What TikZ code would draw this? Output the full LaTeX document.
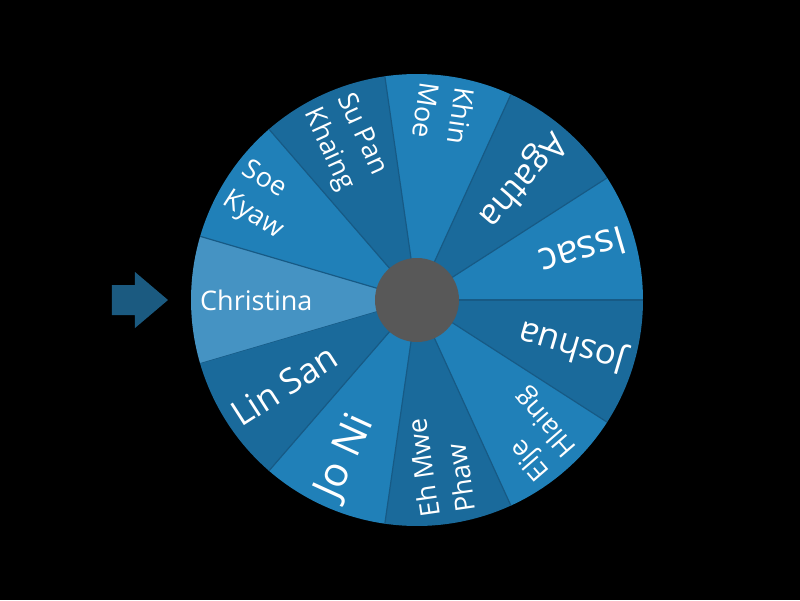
\documentclass[tikz,border=0pt]{standalone}
\usepackage{fontspec}
\setmainfont{Open Sans}
\usepackage{tikz}
\definecolor{segLight}{HTML}{2080B8}
\definecolor{segDark}{HTML}{1A6A9B}
\definecolor{segHi}{HTML}{4593C3}
\definecolor{segLine}{HTML}{175A85}
\definecolor{hubGray}{HTML}{585858}
\definecolor{pointerBlue}{HTML}{1B5A80}

\begin{document}
\begin{tikzpicture}[
    x=1pt, y=1pt,
    divider/.style={draw=segLine, line width=1.2pt},
    wheellabel/.style={text=white, inner sep=0pt, anchor=west, align=left}
]
% Background
\fill[black] (-417,-300) rectangle (383,300);
\useasboundingbox (-417,-300) rectangle (383,300);

% Wheel segments
\foreach \i/\txt/\sz/\col in {
    0/Christina/27/segHi,
    1/{Soe\\Kyaw}/27/segLight,
    2/{Su Pan\\Khaing}/27/segDark,
    3/{Khin\\Moe}/27/segLight,
    4/Agatha/35/segDark,
    5/Issac/39/segLight,
    6/Joshua/35/segDark,
    7/{Elje\\Hlaing}/27/segLight,
    8/{Eh Mwe\\Phaw}/27/segDark,
    9/Jo Ni/41/segLight,
    10/Lin San/35/segDark} {
  \pgfmathsetmacro{\a}{180-\i*360/11}
  \fill[\col] (0,0) -- (\a-180/11:226) arc[start angle=\a-180/11, end angle=\a+180/11, radius=226] -- cycle;
  \draw[divider] (0,0) -- (\a+180/11:226);
  \node[wheellabel, rotate=\a+180, font=\fontsize{\sz}{36}\selectfont] (seg\i) at (\a:217) {\txt};
}

% Hub
\fill[hubGray] (0,0) circle (42);

% Pointer
\fill[pointerBlue] (-305,-15) -- (-282,-15) -- (-282,-28) -- (-249,0) -- (-282,28) -- (-282,15) -- (-305,15) -- cycle;
\end{tikzpicture}
\end{document}
